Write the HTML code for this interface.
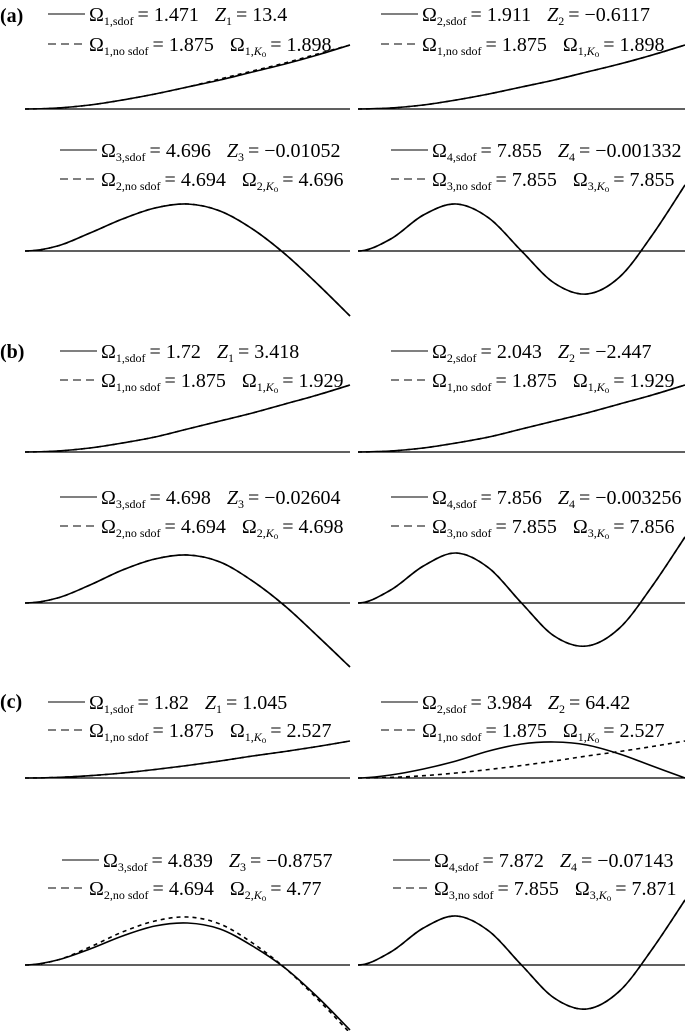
<!DOCTYPE html>
<html><head><meta charset="utf-8"><style>
html,body{margin:0;padding:0;background:#fff}
svg{display:block}
text{font-family:"Liberation Serif",serif;fill:#000}
</style></head><body>
<svg id="fig" width="685" height="1031" viewBox="0 0 685 1031" xmlns="http://www.w3.org/2000/svg">
<text x="0" y="22" font-size="20" font-weight="bold">(a)</text>
<text x="0" y="358" font-size="20" font-weight="bold">(b)</text>
<text x="0" y="708" font-size="20" font-weight="bold">(c)</text>
</svg>
<script>
// x samples (normalized beam position)
const xs = [0,0.1,0.2,0.3,0.4,0.5,0.6,0.7,0.8,0.9,1.0];
// displacement values (px units above baseline)
const aM1s = [0,1,4,9,15,22,29,37,45,54,64];
const aM1d = [0,1,4,9,15,22,30,38,46,55,64];
const aM2 = [0,5,18,32,43,47,40,22,-3,-33,-65];
const aM3 = [0,12,36,47,33,0,-32,-43,-26,16,66];
const bM1L = [0,1,4,9,15,23,31,39,48,57,67];
const bM1R = [0,1,4,9,15,23,31,39,48,57,67];
const bM2 = [0,5,18,33,44,48,41,22,-3,-33,-64];
const bM3 = [0,13,37,50,35,0,-33,-43,-25,17,66];
const cM1 = [0,0.6,2.3,5,8.5,12.5,17,22,26.5,31.5,37];
const cM2s = [0,3,9,17,27,34,36,33,24,12,0];
const cM2d = [0,0.6,2.3,5,8.5,12.5,17,22,26.5,31.5,37];
const cM3s = [0,5,16,29,39,42,36,19,-3,-32,-65];
const cM3d = [0,5,18,33,44,48,41,22,-3,-34,-68];
const cM4 = [0,13,37,49,34,0,-33,-44,-26,16,65];

const NS = "http://www.w3.org/2000/svg";
const svg = document.getElementById('fig');
const L = [25,350], R = [358,685];
function sx(col, x){ return col[0] + x*(col[1]-col[0]); }
function sy(base, v){ return base - v; }
function curve(col, base, vals, dashed, name){
  const pts = xs.map((x,i)=>[sx(col,x), sy(base,vals[i])]);
  let d = "M"+pts[0][0]+","+pts[0][1];
  for(let i=0;i<pts.length-1;i++){
    const p1=pts[i],p2=pts[i+1],p3=pts[Math.min(pts.length-1,i+2)];
    const p0 = i===0 ? [p1[0]-(p2[0]-p1[0]), p2[1]] : pts[i-1];
    const c1=[p1[0]+(p2[0]-p0[0])/6,p1[1]+(p2[1]-p0[1])/6];
    const c2=[p2[0]-(p3[0]-p1[0])/6,p2[1]-(p3[1]-p1[1])/6];
    d+=" C"+c1.join(",")+" "+c2.join(",")+" "+p2.join(",");
  }
  const p=document.createElementNS(NS,'path');
  p.setAttribute('d',d);p.setAttribute('fill','none');p.setAttribute('stroke','#000');
  p.setAttribute('stroke-width',1.6);
  if(dashed)p.setAttribute('stroke-dasharray','4,4');
  
  
  svg.appendChild(p);
}
function baseline(col, base, name){
  const l=document.createElementNS(NS,'line');
  l.setAttribute('x1',col[0]);l.setAttribute('x2',col[1]);l.setAttribute('y1',base);l.setAttribute('y2',base);
  l.setAttribute('stroke','#000');l.setAttribute('stroke-width',1.3);
  
  
  svg.appendChild(l);
}
function legend(x0, y, dashed, html, name){
  const l=document.createElementNS(NS,'line');
  l.setAttribute('x1',x0);l.setAttribute('x2',x0+37);l.setAttribute('y1',y);l.setAttribute('y2',y);
  l.setAttribute('stroke','#000');l.setAttribute('stroke-width',1);
  if(dashed)l.setAttribute('stroke-dasharray','8,5');
  
  
  svg.appendChild(l);
  const t=document.createElementNS(NS,'text');
  t.setAttribute('x',x0+41);t.setAttribute('y',y+7);t.setAttribute('font-size','20');
  t.innerHTML=html;
  
  
  svg.appendChild(t);
}
function sub(s){ return '<tspan font-size="12" dy="4">'+s+'</tspan><tspan dy="-4" dx="4">'; }
function subK(n){ return '<tspan font-size="12" dy="4">'+n+',<tspan font-style="italic">K</tspan><tspan font-size="9" dy="2">o</tspan></tspan><tspan dy="-6" dx="4">'; }
function l1(m,om,z){ return 'Ω'+sub(m+',sdof')+'= '+om+'</tspan><tspan dx="16" font-style="italic">Z</tspan>'+sub(m)+'= '+z+'</tspan>'; }
function l2(m,om,k){ return 'Ω'+sub(m+',no sdof')+'= '+om+'</tspan><tspan dx="16">Ω</tspan>'+subK(m)+'= '+k+'</tspan>'; }

// (a)
legend(48,14,false,l1(1,'1.471','13.4'),'legend-a1-solid');
legend(48,44,true,l2(1,'1.875','1.898'),'legend-a1-dashed');
baseline(L,109,'baseline-a1'); curve(L,109,aM1d,true,'curve-a1-dashed'); curve(L,109,aM1s,false,'curve-a1-solid');
legend(381,14,false,l1(2,'1.911','−0.6117'),'legend-a2-solid');
legend(381,44,true,l2(1,'1.875','1.898'),'legend-a2-dashed');
baseline(R,109,'baseline-a2'); curve(R,109,aM1s,true,'curve-a2-dashed'); curve(R,109,aM1s,false,'curve-a2-solid');
legend(60,150,false,l1(3,'4.696','−0.01052'),'legend-a3-solid');
legend(60,179,true,l2(2,'4.694','4.696'),'legend-a3-dashed');
baseline(L,251,'baseline-a3'); curve(L,251,aM2,true,'curve-a3-dashed'); curve(L,251,aM2,false,'curve-a3-solid');
legend(391,150,false,l1(4,'7.855','−0.001332'),'legend-a4-solid');
legend(391,179,true,l2(3,'7.855','7.855'),'legend-a4-dashed');
baseline(R,251,'baseline-a4'); curve(R,251,aM3,true,'curve-a4-dashed'); curve(R,251,aM3,false,'curve-a4-solid');
// (b)
legend(60,351,false,l1(1,'1.72','3.418'),'legend-b1-solid');
legend(60,380,true,l2(1,'1.875','1.929'),'legend-b1-dashed');
baseline(L,452,'baseline-b1'); curve(L,452,bM1L,true,'curve-b1-dashed'); curve(L,452,bM1L,false,'curve-b1-solid');
legend(391,351,false,l1(2,'2.043','−2.447'),'legend-b2-solid');
legend(391,380,true,l2(1,'1.875','1.929'),'legend-b2-dashed');
baseline(R,452,'baseline-b2'); curve(R,452,bM1R,true,'curve-b2-dashed'); curve(R,452,bM1R,false,'curve-b2-solid');
legend(60,497,false,l1(3,'4.698','−0.02604'),'legend-b3-solid');
legend(60,526,true,l2(2,'4.694','4.698'),'legend-b3-dashed');
baseline(L,603,'baseline-b3'); curve(L,603,bM2,true,'curve-b3-dashed'); curve(L,603,bM2,false,'curve-b3-solid');
legend(391,497,false,l1(4,'7.856','−0.003256'),'legend-b4-solid');
legend(391,526,true,l2(3,'7.855','7.856'),'legend-b4-dashed');
baseline(R,603,'baseline-b4'); curve(R,603,bM3,true,'curve-b4-dashed'); curve(R,603,bM3,false,'curve-b4-solid');
// (c)
legend(48,702,false,l1(1,'1.82','1.045'),'legend-c1-solid');
legend(48,730,true,l2(1,'1.875','2.527'),'legend-c1-dashed');
baseline(L,778,'baseline-c1'); curve(L,778,cM1,true,'curve-c1-dashed'); curve(L,778,cM1,false,'curve-c1-solid');
legend(381,702,false,l1(2,'3.984','64.42'),'legend-c2-solid');
legend(381,730,true,l2(1,'1.875','2.527'),'legend-c2-dashed');
baseline(R,778,'baseline-c2'); curve(R,778,cM2d,true,'curve-c2-dashed'); curve(R,778,cM2s,false,'curve-c2-solid');
legend(62,860,false,l1(3,'4.839','−0.8757'),'legend-c3-solid');
legend(48,888,true,l2(2,'4.694','4.77'),'legend-c3-dashed');
baseline(L,965,'baseline-c3'); curve(L,965,cM3d,true,'curve-c3-dashed'); curve(L,965,cM3s,false,'curve-c3-solid');
legend(393,860,false,l1(4,'7.872','−0.07143'),'legend-c4-solid');
legend(393,888,true,l2(3,'7.855','7.871'),'legend-c4-dashed');
baseline(R,965,'baseline-c4'); curve(R,965,cM4,true,'curve-c4-dashed'); curve(R,965,cM4,false,'curve-c4-solid');
</script>
</body></html>
